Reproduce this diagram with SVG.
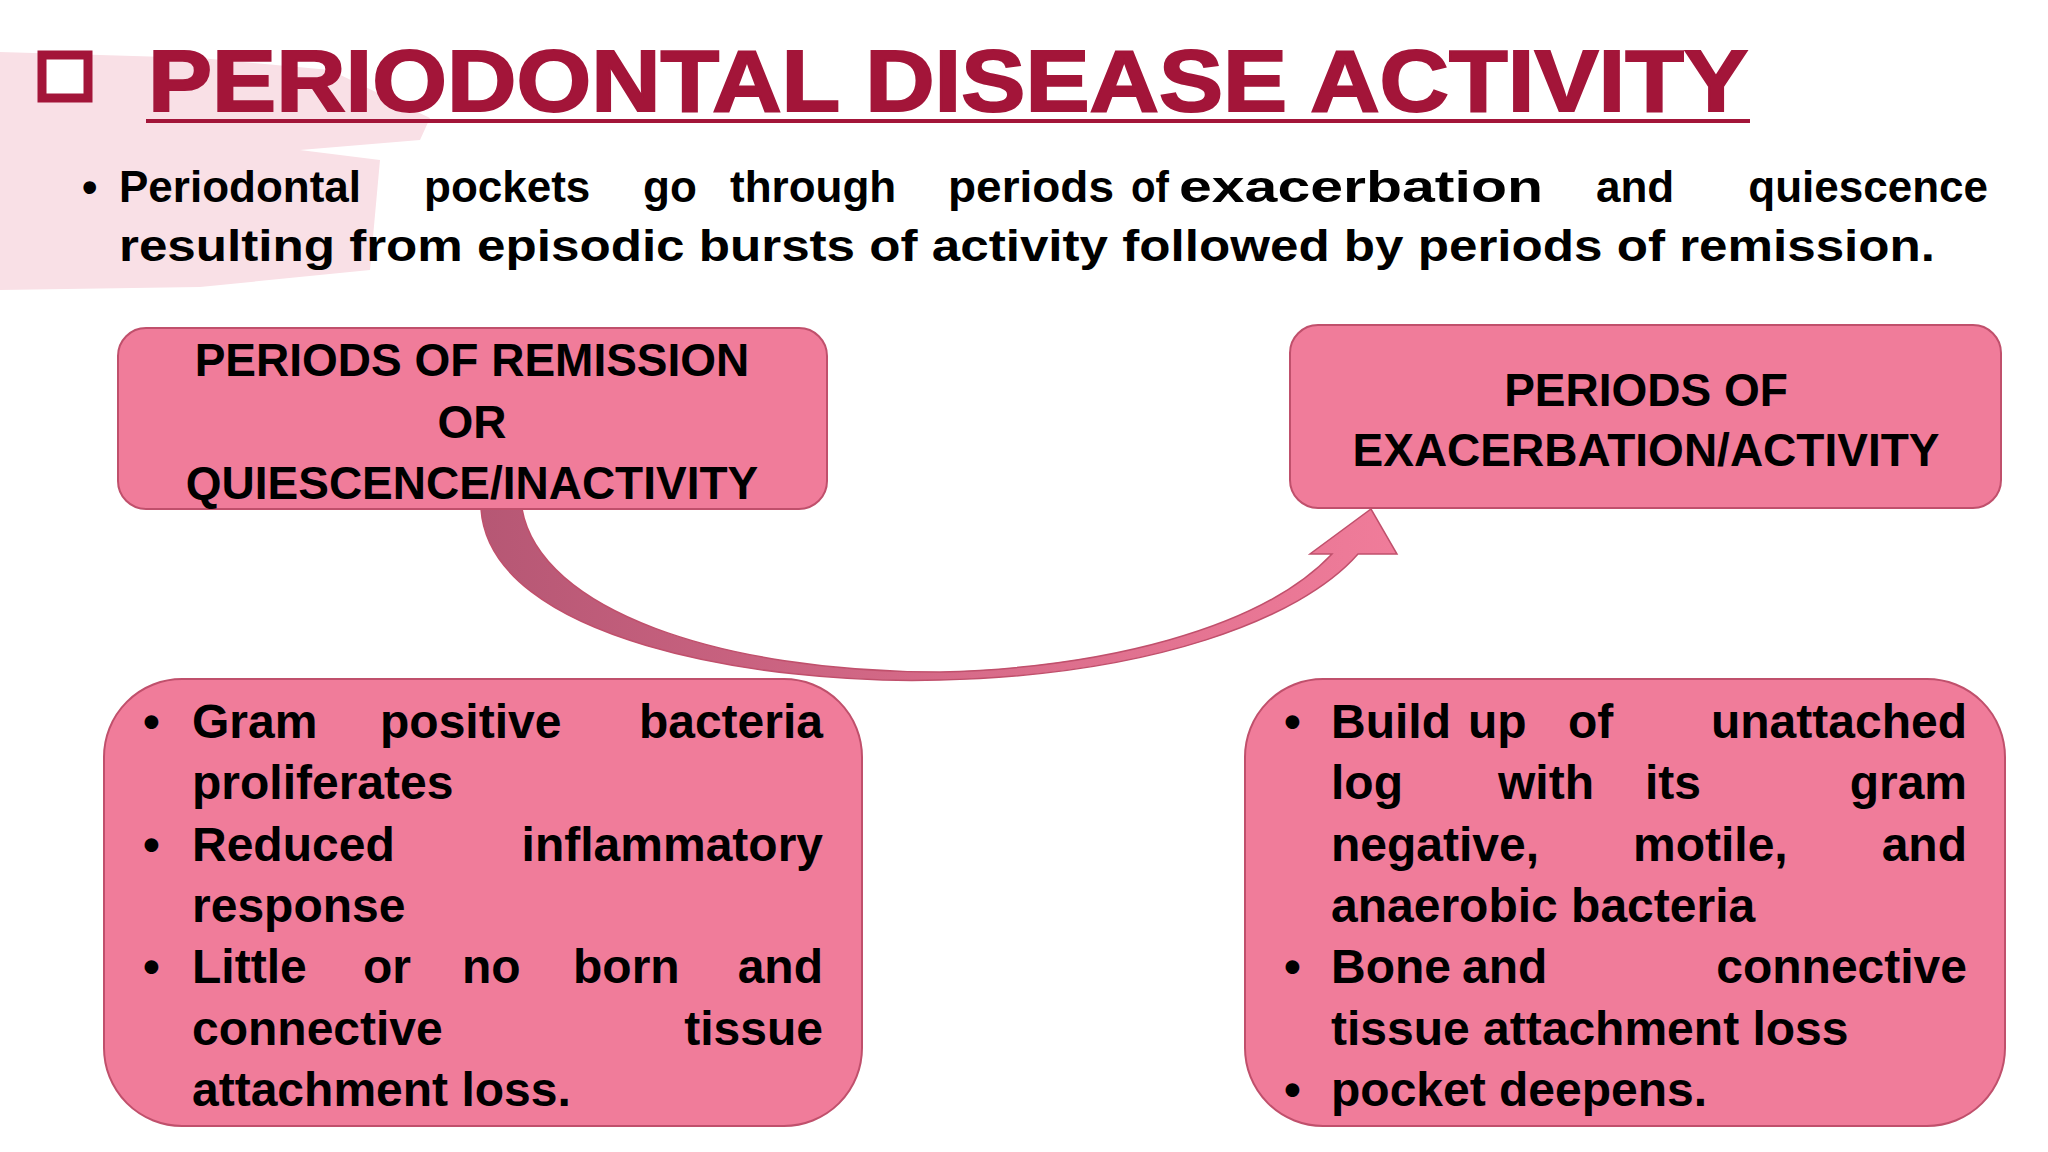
<svg xmlns="http://www.w3.org/2000/svg" width="2048" height="1152" viewBox="0 0 2048 1152">
<style>
.b{font-family:"Liberation Sans",Arial,sans-serif;font-weight:bold;fill:#000}
.box{fill:#f07c9a;stroke:#c0506c;stroke-width:2}
.h{font-size:46px;text-anchor:middle}
.t{font-size:48px}
.e{text-anchor:end}
</style>
<defs>
<linearGradient id="g" x1="0" y1="0" x2="1" y2="0">
<stop offset="0" stop-color="#b65774"/><stop offset="0.5" stop-color="#d66a88"/><stop offset="1" stop-color="#f07c9a"/>
</linearGradient>
</defs>
<rect width="2048" height="1152" fill="#fff"/>
<path d="M0,52 L200,58 L330,70 L430,118 L420,140 L300,150 L380,160 L370,270 L200,287 L0,290 Z" fill="#f9e0e6"/>
<g id="title">
<rect x="46" y="60" width="44" height="42" fill="#7a0f2a"/>
<rect x="42" y="55" width="46" height="43" fill="#fff" stroke="#a31539" stroke-width="9"/>
<text x="148" y="111" font-family="Liberation Sans,Arial,sans-serif" font-weight="bold" font-size="88" fill="#a31539" stroke="#a31539" stroke-width="2" textLength="1600" lengthAdjust="spacingAndGlyphs">PERIODONTAL DISEASE ACTIVITY</text>
<rect x="146" y="119" width="1604" height="4" fill="#a31539"/>
</g>
<g id="intro" class="b" font-size="44">
<text x="82" y="202">•</text>
<text x="119" y="202">Periodontal</text><text x="424" y="202">pockets</text><text x="643" y="202">go</text><text x="730" y="202">through</text><text x="948" y="202" textLength="166" lengthAdjust="spacingAndGlyphs">periods</text><text x="1131" y="202" textLength="38" lengthAdjust="spacingAndGlyphs">of</text><text x="1179" y="202" textLength="364" lengthAdjust="spacingAndGlyphs">exacerbation</text><text x="1596" y="202">and</text><text x="1988" y="202" class="e">quiescence</text>
<text x="119" y="261" textLength="1816" lengthAdjust="spacingAndGlyphs">resulting from episodic bursts of activity followed by periods of remission.</text>
</g>
<g id="connectors">
<path d="M481,509 C490,640 760,685 940,680 C1150,675 1300,620 1358,554 L1397,554 L1371,509 L1310,554 L1332,554 C1260,630 1100,668 940,672 C720,672 540,610 522,509 Z" fill="url(#g)" stroke="#c0506c" stroke-width="1.5"/>
</g>
<g id="remission">
<rect class="box" x="118" y="328" width="709" height="181" rx="28"/>
<g class="b h"><text x="472" y="376">PERIODS OF REMISSION</text><text x="472" y="438">OR</text><text x="472" y="499">QUIESCENCE/INACTIVITY</text></g>
</g>
<g id="exacerbation">
<rect class="box" x="1290" y="325" width="711" height="183" rx="28"/>
<g class="b h"><text x="1646" y="406">PERIODS OF</text><text x="1646" y="466">EXACERBATION/ACTIVITY</text></g>
</g>
<g id="remissionDetails">
<rect class="box" x="104" y="679" width="758" height="447" rx="78"/>
<g class="b t">
<text x="143" y="738">•</text><text x="192" y="738">Gram</text><text x="380" y="738">positive</text><text x="823" y="738" class="e">bacteria</text>
<text x="192" y="799">proliferates</text>
<text x="143" y="861">•</text><text x="192" y="861">Reduced</text><text x="823" y="861" class="e">inflammatory</text>
<text x="192" y="922">response</text>
<text x="143" y="983">•</text><text x="192" y="983">Little</text><text x="363" y="983">or</text><text x="462" y="983">no</text><text x="573" y="983">born</text><text x="823" y="983" class="e">and</text>
<text x="192" y="1045">connective</text><text x="823" y="1045" class="e">tissue</text>
<text x="192" y="1106">attachment loss.</text>
</g>
</g>
<g id="exacerbationDetails">
<rect class="box" x="1245" y="679" width="760" height="447" rx="78"/>
<g class="b t">
<text x="1284" y="738">•</text><text x="1331" y="738">Build</text><text x="1468" y="738">up</text><text x="1568" y="738">of</text><text x="1967" y="738" class="e">unattached</text>
<text x="1331" y="799">log</text><text x="1498" y="799">with</text><text x="1645" y="799">its</text><text x="1967" y="799" class="e">gram</text>
<text x="1331" y="861">negative,</text><text x="1633" y="861">motile,</text><text x="1967" y="861" class="e">and</text>
<text x="1331" y="922">anaerobic bacteria</text>
<text x="1284" y="983">•</text><text x="1331" y="983">Bone</text><text x="1462" y="983">and</text><text x="1967" y="983" class="e">connective</text>
<text x="1331" y="1045">tissue attachment loss</text>
<text x="1284" y="1106">•</text><text x="1331" y="1106">pocket deepens.</text>
</g>
</g>
</svg>
